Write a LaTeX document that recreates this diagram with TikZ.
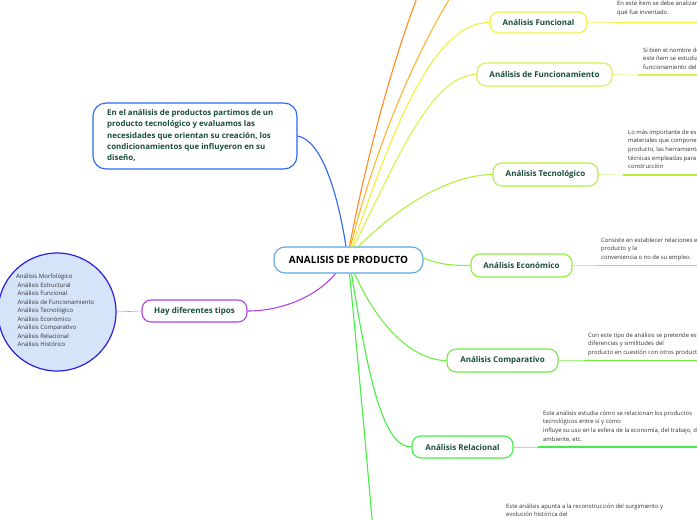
\documentclass[tikz,border=0pt]{standalone}
\usepackage{fontspec}
\setmainfont{Open Sans}
\definecolor{lbl}{HTML}{1B4D3E}
\definecolor{txt}{HTML}{333333}
\definecolor{cblue}{HTML}{2A66F0}
\definecolor{cpurple}{HTML}{B044E8}
\definecolor{corA}{HTML}{FF8C1A}
\definecolor{corB}{HTML}{FFB22E}
\definecolor{cyel}{HTML}{F2F03A}
\definecolor{cyg}{HTML}{DDF04A}
\definecolor{clime}{HTML}{B2F03A}
\definecolor{cgrA}{HTML}{8EEE3E}
\definecolor{cgrB}{HTML}{6EEE3E}
\definecolor{cgrC}{HTML}{44EE44}
\definecolor{ccenter}{HTML}{5AA8E0}
\definecolor{cfill}{HTML}{D6E4FA}
\definecolor{ccirc}{HTML}{2A1EE0}
\tikzset{
  topic/.style={draw, line width=1.1pt, fill=white, rounded corners=9pt, inner sep=0pt,
    font=\fontsize{8}{9}\selectfont\bfseries, text=lbl, minimum height=22pt},
  note/.style={anchor=north west, inner sep=0pt, align=left, text=txt,
    font=\fontsize{5.9}{8.6}\selectfont},
  branch/.style={line width=1.1pt},
  thin/.style={line width=0.6pt},
  under/.style={line width=1.8pt}
}
\begin{document}
\begin{tikzpicture}[x=1pt,y=-1pt]
\useasboundingbox (0,0) rectangle (697,520);
\clip (0,0) rectangle (697,520);
% nodes
\node[topic, draw=ccenter, text=black, font=\fontsize{10}{11}\selectfont\bfseries, minimum width=149pt, minimum height=26pt, rounded corners=11pt] (c) at (348.5,260) {ANALISIS DE PRODUCTO};
\node[topic, draw=cblue, minimum width=204pt, minimum height=66pt, rounded corners=13pt] (intro) at (195,136) {};
\node[anchor=north west, inner sep=0pt, align=left, text=lbl, font=\fontsize{7.9}{11.2}\selectfont\bfseries] (introtxt) at (107,109.5) {En el análisis de productos partimos de un\\producto tecnológico y evaluamos las\\necesidades que orientan su creación, los\\condicionamientos que influyeron en su\\diseño,};
\node[topic, draw=cpurple, minimum width=105pt] (tipos) at (194.5,311) {Hay diferentes tipos};
\node[circle, draw=ccirc, fill=cfill, line width=1.2pt, minimum size=118pt, inner sep=0pt] (circ) at (57,312) {};
\node[note, font=\fontsize{6}{8.5}\selectfont] (circtxt) at (16,274) {Análisis Morfológico\\\hspace{1.5pt}Análisis Estructural\\\hspace{1.5pt}Análisis Funcional\\\hspace{1.5pt}Análisis de Funcionamiento\\\hspace{1.5pt}Análisis Tecnológico\\\hspace{1.5pt}Análisis Económico\\\hspace{1.5pt}Análisis Comparativo\\\hspace{1.5pt}Análisis Relacional\\\hspace{1.5pt}Análisis Histórico};
\node[topic, draw=cyel, minimum width=97pt, minimum height=21pt] (func) at (538.5,22.5) {Análisis Funcional};
\node[topic, draw=cyg, minimum width=135pt, minimum height=23pt] (fnm) at (544.5,74.5) {Análisis de Funcionamiento};
\node[topic, draw=clime, minimum width=105pt, minimum height=23pt] (tec) at (545.5,174.5) {Análisis Tecnológico};
\node[topic, draw=cgrA, minimum width=101pt, minimum height=23pt] (eco) at (521.5,265.5) {Análisis Económico};
\node[topic, draw=cgrB, minimum width=111pt, minimum height=23pt] (comp) at (502.5,360.5) {Análisis Comparativo};
\node[topic, draw=cgrC, minimum width=101pt, minimum height=22pt] (rel) at (462.5,447) {Análisis Relacional};
% notes
\node[note] (nfunc) at (617,0.8) {En este ítem se debe analizar para\\qué fue inventado.};
\node[note] (nfnm) at (643,47.6) {Si bien el nombre de este\\este ítem se estudia el\\funcionamiento del objeto};
\node[note] (ntec) at (628,129.6) {Lo más importante de este análisis\\materiales que componen el\\producto, las herramientas y\\técnicas empleadas para su\\construcción};
\node[note] (neco) at (601,237.6) {Consiste en establecer relaciones entre\\producto y la\\conveniencia o no de su empleo.};
\node[note] (ncomp) at (588,332.6) {Con este tipo de análisis se pretende establecer\\diferencias y similitudes del\\producto en cuestión con otros productos};
\node[note] (nrel) at (543,410.6) {Este análisis estudia cómo se relacionan los productos\\tecnológicos entre sí y cómo\\influye su uso en la esfera de la economía, del trabajo, del medio\\ambiente, etc.};
\node[note] (nhis) at (506,503.6) {Este análisis apunta a la reconstrucción del surgimiento y\\evolución histórica del};
% free ends
\coordinate (oA) at (422,-15);
\coordinate (oB) at (458,-15);
\coordinate (hEnd) at (373,530);
\coordinate (uFuncA) at (613,22.5);
\coordinate (uFuncB) at (700,22.5);
\coordinate (uFnmA) at (638,75);
\coordinate (uFnmB) at (700,75);
\coordinate (uTecA) at (623,175);
\coordinate (uTecB) at (700,175);
\coordinate (uEcoA) at (597,265.5);
\coordinate (uEcoB) at (700,265.5);
\coordinate (uCompA) at (584,360.5);
\coordinate (uCompB) at (700,360.5);
\coordinate (uRelA) at (538,447);
\coordinate (uRelB) at (700,447);
% branches
\draw[branch, cblue] ([xshift=-2.5pt]c.north) .. controls (338,195) and (322,140) .. (intro.east);
\draw[branch, cpurple] ([xshift=-13pt]c.south) .. controls (315,298) and (280,311) .. (tipos.east);
\draw[thin, cpurple!60] (tipos.west) -- (circ.east);
\draw[branch, corA] ([xshift=1pt]c.north) .. controls (365,165) and (392,60) .. (oA);
\draw[branch, corB] ([xshift=2pt]c.north) .. controls (372,160) and (410,60) .. (oB);
\draw[branch, cyel] ([xshift=3.5pt]c.north) .. controls (390,140) and (430,22.5) .. (func.west);
\draw[branch, cyg] ([xshift=5pt]c.north) .. controls (395,165) and (430,75) .. (fnm.west);
\draw[branch, clime] ([xshift=10pt]c.north) .. controls (400,205) and (450,175) .. (tec.west);
\draw[branch, cgrA] ([yshift=2pt]c.east) .. controls (440,265) and (455,265.5) .. (eco.west);
\draw[branch, cgrB] ([xshift=6pt]c.south) .. controls (380,330) and (415,360.5) .. (comp.west);
\draw[branch, cgrC] ([xshift=3pt]c.south) .. controls (370,390) and (385,447) .. (rel.west);
\draw[branch, cgrC] ([xshift=1pt]c.south) .. controls (358,360) and (366,450) .. (hEnd);
% note connectors
\draw[thin, cyel!60] (func.east) -- (uFuncA);
\draw[under, cyel] (uFuncA) -- (uFuncB);
\draw[thin, cyg!60] (fnm.east) -- (uFnmA);
\draw[under, cyg] (uFnmA) -- (uFnmB);
\draw[thin, clime!60] (tec.east) -- (uTecA);
\draw[under, clime] (uTecA) -- (uTecB);
\draw[thin, cgrA!60] (eco.east) -- (uEcoA);
\draw[under, cgrA] (uEcoA) -- (uEcoB);
\draw[thin, cgrB!60] (comp.east) -- (uCompA);
\draw[under, cgrB] (uCompA) -- (uCompB);
\draw[thin, cgrC!60] (rel.east) -- (uRelA);
\draw[under, cgrC] (uRelA) -- (uRelB);
\end{tikzpicture}
\end{document}
